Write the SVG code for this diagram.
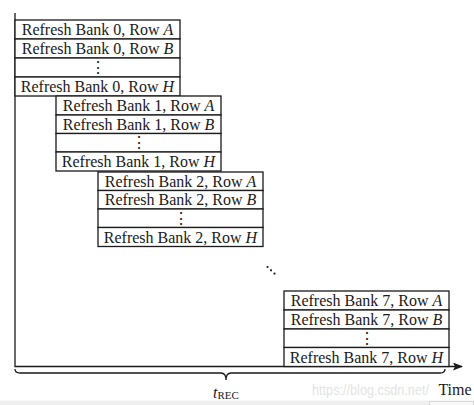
<svg xmlns="http://www.w3.org/2000/svg" width="474" height="405" viewBox="0 0 474 405">
<style>
.row{fill:#fff;stroke:#1a1a1a;stroke-width:1.3}
.t{font-family:"Liberation Serif","Times New Roman",serif;font-size:16px;fill:#1a1a1a;text-anchor:middle}
.ax{stroke:#1a1a1a;stroke-width:1.3;fill:none}
.dot{fill:#1a1a1a}
</style>
<defs>
<marker id="arr" markerWidth="10" markerHeight="8" refX="9" refY="4" orient="auto" markerUnits="userSpaceOnUse">
<path d="M0,0 L10,4 L0,8 L2,4 Z" fill="#1a1a1a"/>
</marker>
</defs>
<rect width="474" height="405" fill="#fff"/>
<rect x="0" y="400.5" width="474" height="4.5" fill="#efefef"/>
<rect x="429.5" y="401.5" width="44" height="4" fill="#f7f7f7" stroke="#d8d8d8" stroke-width="1"/>
<g id="connectors">
<path class="ax" d="M15,13 L15,366.5 L462,366.5" marker-end="url(#arr)"/>
<path class="ax" d="M15,369 Q15,373 20,373 L221,373 Q226,373 226,380 Q226,373 231,373 L440,373 Q445,373 445,369"/>
</g>
<g id="bank0">
<rect class="row" x="15" y="20" width="165" height="19"/>
<rect class="row" x="15" y="39" width="165" height="19"/>
<rect class="row" x="15" y="58" width="165" height="19"/>
<rect class="row" x="15" y="77" width="165" height="19"/>
<text class="t" x="97.5" y="35">Refresh Bank 0, Row <tspan font-style="italic">A</tspan></text>
<text class="t" x="97.5" y="54">Refresh Bank 0, Row <tspan font-style="italic">B</tspan></text>
<text class="t" x="97.5" y="73">⋮</text>
<text class="t" x="97.5" y="92">Refresh Bank 0, Row <tspan font-style="italic">H</tspan></text>
</g>
<g id="bank1">
<rect class="row" x="56" y="96" width="165" height="19"/>
<rect class="row" x="56" y="115" width="165" height="18.5"/>
<rect class="row" x="56" y="133.5" width="165" height="18.5"/>
<rect class="row" x="56" y="152" width="165" height="19"/>
<text class="t" x="138.5" y="111">Refresh Bank 1, Row <tspan font-style="italic">A</tspan></text>
<text class="t" x="138.5" y="129.5">Refresh Bank 1, Row <tspan font-style="italic">B</tspan></text>
<text class="t" x="138.5" y="148">⋮</text>
<text class="t" x="138.5" y="167">Refresh Bank 1, Row <tspan font-style="italic">H</tspan></text>
</g>
<g id="bank2">
<rect class="row" x="98" y="172" width="165" height="18.5"/>
<rect class="row" x="98" y="190.5" width="165" height="18.5"/>
<rect class="row" x="98" y="209" width="165" height="18.5"/>
<rect class="row" x="98" y="227.5" width="165" height="19"/>
<text class="t" x="180.5" y="186.5">Refresh Bank 2, Row <tspan font-style="italic">A</tspan></text>
<text class="t" x="180.5" y="205">Refresh Bank 2, Row <tspan font-style="italic">B</tspan></text>
<text class="t" x="180.5" y="223.5">⋮</text>
<text class="t" x="180.5" y="242.5">Refresh Bank 2, Row <tspan font-style="italic">H</tspan></text>
</g>
<g id="ddots">
<circle class="dot" cx="267.5" cy="267" r="1.1"/>
<circle class="dot" cx="271" cy="270.3" r="1.1"/>
<circle class="dot" cx="274.5" cy="273.6" r="1.1"/>
</g>
<g id="bank7">
<rect class="row" x="284" y="291" width="165" height="19"/>
<rect class="row" x="284" y="310" width="165" height="19"/>
<rect class="row" x="284" y="329" width="165" height="18.5"/>
<rect class="row" x="284" y="347.5" width="165" height="19"/>
<text class="t" x="366.5" y="306">Refresh Bank 7, Row <tspan font-style="italic">A</tspan></text>
<text class="t" x="366.5" y="325">Refresh Bank 7, Row <tspan font-style="italic">B</tspan></text>
<text class="t" x="366.5" y="344">⋮</text>
<text class="t" x="366.5" y="362.5">Refresh Bank 7, Row <tspan font-style="italic">H</tspan></text>
</g>
<g id="labels">
<text x="312" y="395" font-family="Liberation Sans,Arial,sans-serif" font-size="14" fill="#e4e4e4" textLength="117" lengthAdjust="spacingAndGlyphs">https://blog.csdn.net/</text>
<text x="455" y="395" class="t" style="font-size:16px">Time</text>
<text x="213" y="398" font-family="Liberation Serif,serif" font-size="16" fill="#1a1a1a"><tspan font-style="italic">t</tspan><tspan font-size="11" dy="1">REC</tspan></text>
</g>
</svg>
